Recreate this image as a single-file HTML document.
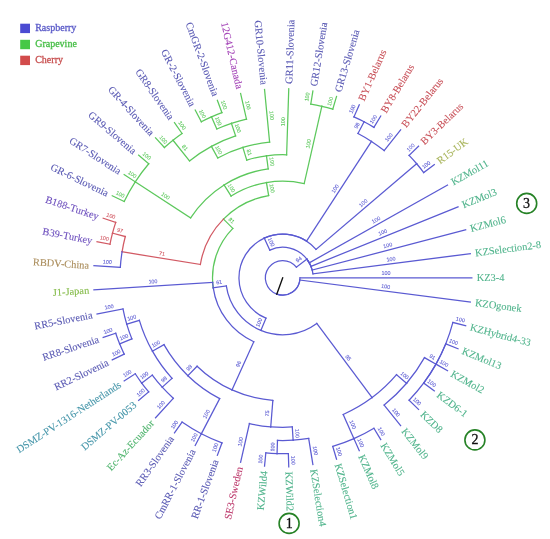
<!DOCTYPE html>
<html><head><meta charset="utf-8"><style>
html,body{margin:0;padding:0;background:#fff;}
body{width:550px;height:539px;overflow:hidden;}
svg{display:block;}
</style></head><body>
<svg width="550" height="539" viewBox="0 0 550 539">
<g fill="none" stroke-width="1.25" stroke-linecap="square">
<path d="M276.81,294.07A17.30,17.30 0 1 1 296.39,267.23" stroke="#5a5ad2"/>
<path d="M276.81,294.07A17.30,17.30 0 0 0 299.86,280.01" stroke="#5a5ad2"/>
<path d="M276.81,294.07A17.30,17.30 0 0 0 300.00,277.80" stroke="#5a5ad2"/>
<path d="M300.00,277.80L471.86,277.80" stroke="#5a5ad2"/>
<path d="M299.86,280.01L470.31,301.99" stroke="#5a5ad2"/>
<path d="M296.39,267.23L306.85,259.14" stroke="#5a5ad2"/>
<path d="M306.85,259.14A30.52,30.52 0 0 1 312.97,273.90" stroke="#5a5ad2"/>
<path d="M306.85,259.14A30.52,30.52 0 0 1 312.22,270.06" stroke="#5a5ad2"/>
<path d="M306.85,259.14A30.52,30.52 0 0 1 310.99,266.35" stroke="#5a5ad2"/>
<path d="M306.85,259.14A30.52,30.52 0 0 1 309.29,262.82" stroke="#5a5ad2"/>
<path d="M306.85,259.14A30.52,30.52 0 0 0 269.83,250.13" stroke="#5a5ad2"/>
<path d="M269.83,250.13L264.26,238.14" stroke="#5a5ad2"/>
<path d="M309.29,262.82L447.52,184.98" stroke="#5a5ad2"/>
<path d="M310.99,266.35L458.04,206.81" stroke="#5a5ad2"/>
<path d="M312.22,270.06L465.67,229.82" stroke="#5a5ad2"/>
<path d="M312.97,273.90L470.31,253.61" stroke="#5a5ad2"/>
<path d="M264.26,238.14A43.74,43.74 0 0 1 316.01,249.45" stroke="#5a5ad2"/>
<path d="M264.26,238.14A43.74,43.74 0 0 1 306.56,241.14" stroke="#5a5ad2"/>
<path d="M264.26,238.14A43.74,43.74 0 0 0 265.94,318.20" stroke="#5a5ad2"/>
<path d="M265.94,318.20L260.87,330.41" stroke="#5a5ad2"/>
<path d="M306.56,241.14L371.47,141.43" stroke="#5a5ad2"/>
<path d="M316.01,249.45L416.67,163.75" stroke="#5a5ad2"/>
<path d="M260.87,330.41A56.96,56.96 0 0 1 226.32,285.92" stroke="#5a5ad2"/>
<path d="M260.87,330.41A56.96,56.96 0 0 0 316.77,323.45" stroke="#5a5ad2"/>
<path d="M316.77,323.45L372.12,397.61" stroke="#5a5ad2"/>
<path d="M226.32,285.92L213.24,287.81" stroke="#5a5ad2"/>
<path d="M372.12,397.61A149.50,149.50 0 0 1 343.22,414.50" stroke="#5a5ad2"/>
<path d="M372.12,397.61A149.50,149.50 0 0 0 396.54,374.71" stroke="#5a5ad2"/>
<path d="M396.54,374.71L406.60,383.28" stroke="#5a5ad2"/>
<path d="M343.22,414.50L353.92,438.68" stroke="#5a5ad2"/>
<path d="M406.60,383.28A162.72,162.72 0 0 1 384.15,405.02" stroke="#5a5ad2"/>
<path d="M406.60,383.28A162.72,162.72 0 0 0 424.48,357.65" stroke="#5a5ad2"/>
<path d="M424.48,357.65L436.00,364.14" stroke="#5a5ad2"/>
<path d="M384.15,405.02L400.64,425.69" stroke="#5a5ad2"/>
<path d="M436.00,364.14A175.94,175.94 0 0 1 409.09,400.20" stroke="#5a5ad2"/>
<path d="M436.00,364.14A175.94,175.94 0 0 1 423.70,383.03" stroke="#5a5ad2"/>
<path d="M436.00,364.14A175.94,175.94 0 0 0 445.78,343.82" stroke="#5a5ad2"/>
<path d="M436.00,364.14A175.94,175.94 0 0 0 452.89,322.43" stroke="#5a5ad2"/>
<path d="M452.89,322.43L465.67,325.78" stroke="#5a5ad2"/>
<path d="M445.78,343.82L458.04,348.79" stroke="#5a5ad2"/>
<path d="M436.00,364.14L447.52,370.62" stroke="#5a5ad2"/>
<path d="M423.70,383.03L434.30,390.94" stroke="#5a5ad2"/>
<path d="M409.09,400.20L418.58,409.40" stroke="#5a5ad2"/>
<path d="M353.92,438.68A175.94,175.94 0 0 1 332.76,446.47" stroke="#5a5ad2"/>
<path d="M353.92,438.68A175.94,175.94 0 0 0 373.91,428.25" stroke="#5a5ad2"/>
<path d="M373.91,428.25L380.76,439.56" stroke="#5a5ad2"/>
<path d="M353.92,438.68L359.27,450.77" stroke="#5a5ad2"/>
<path d="M332.76,446.47L336.52,459.14" stroke="#5a5ad2"/>
<path d="M213.24,287.81A70.18,70.18 0 0 1 232.85,228.40" stroke="#5cc85c"/>
<path d="M213.24,287.81A70.18,70.18 0 0 1 212.66,282.30" stroke="#5a5ad2"/>
<path d="M213.24,287.81A70.18,70.18 0 0 0 253.78,341.74" stroke="#5a5ad2"/>
<path d="M253.78,341.74L231.99,389.92" stroke="#5a5ad2"/>
<path d="M212.66,282.30L93.93,289.92" stroke="#5a5ad2"/>
<path d="M232.85,228.40L223.46,219.09" stroke="#5cc85c"/>
<path d="M231.99,389.92A123.06,123.06 0 0 1 197.09,366.20" stroke="#5a5ad2"/>
<path d="M231.99,389.92A123.06,123.06 0 0 0 272.85,400.47" stroke="#5a5ad2"/>
<path d="M272.85,400.47L270.73,426.82" stroke="#5a5ad2"/>
<path d="M197.09,366.20L187.89,375.70" stroke="#5a5ad2"/>
<path d="M270.73,426.82A149.50,149.50 0 0 1 249.43,423.55" stroke="#5a5ad2"/>
<path d="M270.73,426.82A149.50,149.50 0 0 0 292.28,426.99" stroke="#5a5ad2"/>
<path d="M292.28,426.99L293.13,440.19" stroke="#5a5ad2"/>
<path d="M249.43,423.55L240.61,462.22" stroke="#5a5ad2"/>
<path d="M293.13,440.19A162.72,162.72 0 0 1 277.48,440.44" stroke="#5a5ad2"/>
<path d="M293.13,440.19A162.72,162.72 0 0 0 308.67,438.43" stroke="#5a5ad2"/>
<path d="M308.67,438.43L312.89,464.54" stroke="#5a5ad2"/>
<path d="M277.48,440.44L277.06,453.65" stroke="#5a5ad2"/>
<path d="M277.06,453.65A175.94,175.94 0 0 1 265.81,452.93" stroke="#5a5ad2"/>
<path d="M277.06,453.65A175.94,175.94 0 0 0 288.34,453.65" stroke="#5a5ad2"/>
<path d="M288.34,453.65L288.76,466.86" stroke="#5a5ad2"/>
<path d="M265.81,452.93L264.54,466.09" stroke="#5a5ad2"/>
<path d="M187.89,375.70A136.28,136.28 0 0 1 163.96,344.67" stroke="#5a5ad2"/>
<path d="M187.89,375.70A136.28,136.28 0 0 0 219.67,398.63" stroke="#5a5ad2"/>
<path d="M219.67,398.63L201.32,433.79" stroke="#5a5ad2"/>
<path d="M163.96,344.67L152.44,351.16" stroke="#5a5ad2"/>
<path d="M201.32,433.79A175.94,175.94 0 0 1 182.04,422.10" stroke="#5a5ad2"/>
<path d="M201.32,433.79A175.94,175.94 0 0 0 221.94,442.91" stroke="#5a5ad2"/>
<path d="M221.94,442.91L217.37,455.32" stroke="#5a5ad2"/>
<path d="M201.32,433.79L195.21,445.51" stroke="#5a5ad2"/>
<path d="M182.04,422.10L174.48,432.94" stroke="#5a5ad2"/>
<path d="M152.44,351.16A149.50,149.50 0 0 1 139.38,320.34" stroke="#5a5ad2"/>
<path d="M152.44,351.16A149.50,149.50 0 0 0 172.03,378.31" stroke="#5a5ad2"/>
<path d="M172.03,378.31L162.24,387.20" stroke="#5a5ad2"/>
<path d="M139.38,320.34L126.71,324.10" stroke="#5a5ad2"/>
<path d="M162.24,387.20A162.72,162.72 0 0 1 152.29,375.12" stroke="#5a5ad2"/>
<path d="M162.24,387.20A162.72,162.72 0 0 0 173.30,398.26" stroke="#5a5ad2"/>
<path d="M173.30,398.26L155.53,417.83" stroke="#5a5ad2"/>
<path d="M152.29,375.12L141.70,383.03" stroke="#5a5ad2"/>
<path d="M141.70,383.03A175.94,175.94 0 0 1 135.25,373.78" stroke="#5a5ad2"/>
<path d="M141.70,383.03A175.94,175.94 0 0 0 148.73,391.85" stroke="#5a5ad2"/>
<path d="M148.73,391.85L138.66,400.42" stroke="#5a5ad2"/>
<path d="M135.25,373.78L124.17,380.99" stroke="#5a5ad2"/>
<path d="M126.71,324.10A162.72,162.72 0 0 1 122.98,308.91" stroke="#5a5ad2"/>
<path d="M126.71,324.10A162.72,162.72 0 0 0 131.87,338.86" stroke="#5a5ad2"/>
<path d="M131.87,338.86L119.62,343.82" stroke="#5a5ad2"/>
<path d="M122.98,308.91L97.03,313.96" stroke="#5a5ad2"/>
<path d="M119.62,343.82A175.94,175.94 0 0 1 115.72,333.24" stroke="#5a5ad2"/>
<path d="M119.62,343.82A175.94,175.94 0 0 0 124.18,354.14" stroke="#5a5ad2"/>
<path d="M124.18,354.14L112.27,359.87" stroke="#5a5ad2"/>
<path d="M115.72,333.24L103.18,337.41" stroke="#5a5ad2"/>
<path d="M223.46,219.09A83.40,83.40 0 0 1 268.65,195.59" stroke="#5cc85c"/>
<path d="M223.46,219.09A83.40,83.40 0 0 0 200.37,264.49" stroke="#d25a64"/>
<path d="M200.37,264.49L122.07,251.83" stroke="#d25a64"/>
<path d="M268.65,195.59L266.42,182.56" stroke="#5cc85c"/>
<path d="M122.07,251.83A162.72,162.72 0 0 1 125.30,236.53" stroke="#d25a64"/>
<path d="M122.07,251.83A162.72,162.72 0 0 0 120.31,267.37" stroke="#5a5ad2"/>
<path d="M120.31,267.37L93.93,265.68" stroke="#5a5ad2"/>
<path d="M125.30,236.53L112.51,233.17" stroke="#d25a64"/>
<path d="M112.51,233.17A175.94,175.94 0 0 1 115.72,222.36" stroke="#d25a64"/>
<path d="M112.51,233.17A175.94,175.94 0 0 0 110.00,244.17" stroke="#d25a64"/>
<path d="M110.00,244.17L97.03,241.64" stroke="#d25a64"/>
<path d="M115.72,222.36L103.18,218.19" stroke="#d25a64"/>
<path d="M266.42,182.56A96.62,96.62 0 0 1 304.20,183.60" stroke="#5cc85c"/>
<path d="M266.42,182.56A96.62,96.62 0 0 0 231.13,196.09" stroke="#5cc85c"/>
<path d="M231.13,196.09L224.08,184.91" stroke="#5cc85c"/>
<path d="M304.20,183.60L321.85,106.27" stroke="#5cc85c"/>
<path d="M224.08,184.91A109.84,109.84 0 0 1 268.22,168.92" stroke="#5cc85c"/>
<path d="M224.08,184.91A109.84,109.84 0 0 0 190.64,217.88" stroke="#5cc85c"/>
<path d="M190.64,217.88L135.25,181.82" stroke="#5cc85c"/>
<path d="M268.22,168.92L266.47,155.81" stroke="#5cc85c"/>
<path d="M135.25,181.82A175.94,175.94 0 0 1 148.73,163.75" stroke="#5cc85c"/>
<path d="M135.25,181.82A175.94,175.94 0 0 0 124.18,201.46" stroke="#5cc85c"/>
<path d="M124.18,201.46L112.27,195.73" stroke="#5cc85c"/>
<path d="M135.25,181.82L124.17,174.61" stroke="#5cc85c"/>
<path d="M148.73,163.75L138.66,155.18" stroke="#5cc85c"/>
<path d="M266.47,155.81A123.06,123.06 0 0 1 286.64,154.80" stroke="#5cc85c"/>
<path d="M266.47,155.81A123.06,123.06 0 0 0 246.74,160.11" stroke="#5cc85c"/>
<path d="M246.74,160.11L242.88,147.47" stroke="#5cc85c"/>
<path d="M286.64,154.80L288.76,88.74" stroke="#5cc85c"/>
<path d="M242.88,147.47A136.28,136.28 0 0 1 269.61,142.15" stroke="#5cc85c"/>
<path d="M242.88,147.47A136.28,136.28 0 0 0 217.74,158.00" stroke="#5cc85c"/>
<path d="M217.74,158.00L211.43,146.38" stroke="#5cc85c"/>
<path d="M269.61,142.15L264.54,89.51" stroke="#5cc85c"/>
<path d="M211.43,146.38A149.50,149.50 0 0 1 235.59,135.92" stroke="#5cc85c"/>
<path d="M211.43,146.38A149.50,149.50 0 0 0 189.49,160.92" stroke="#5cc85c"/>
<path d="M189.49,160.92L173.00,140.24" stroke="#5cc85c"/>
<path d="M235.59,135.92L231.43,123.37" stroke="#5cc85c"/>
<path d="M173.00,140.24A175.94,175.94 0 0 1 182.04,133.50" stroke="#5cc85c"/>
<path d="M173.00,140.24A175.94,175.94 0 0 0 164.42,147.56" stroke="#5cc85c"/>
<path d="M164.42,147.56L155.53,137.77" stroke="#5cc85c"/>
<path d="M182.04,133.50L174.48,122.66" stroke="#5cc85c"/>
<path d="M231.43,123.37A162.72,162.72 0 0 1 246.49,119.16" stroke="#5cc85c"/>
<path d="M231.43,123.37A162.72,162.72 0 0 0 216.83,129.01" stroke="#5cc85c"/>
<path d="M216.83,129.01L211.48,116.92" stroke="#5cc85c"/>
<path d="M246.49,119.16L240.61,93.38" stroke="#5cc85c"/>
<path d="M211.48,116.92A175.94,175.94 0 0 1 221.94,112.69" stroke="#5cc85c"/>
<path d="M211.48,116.92A175.94,175.94 0 0 0 201.32,121.81" stroke="#5cc85c"/>
<path d="M201.32,121.81L195.21,110.09" stroke="#5cc85c"/>
<path d="M221.94,112.69L217.37,100.28" stroke="#5cc85c"/>
<path d="M321.85,106.27A175.94,175.94 0 0 1 332.76,109.13" stroke="#5cc85c"/>
<path d="M321.85,106.27A175.94,175.94 0 0 0 310.78,104.12" stroke="#5cc85c"/>
<path d="M310.78,104.12L312.89,91.06" stroke="#5cc85c"/>
<path d="M332.76,109.13L336.52,96.46" stroke="#5cc85c"/>
<path d="M371.47,141.43A162.72,162.72 0 0 1 384.15,150.58" stroke="#5a5ad2"/>
<path d="M371.47,141.43A162.72,162.72 0 0 0 357.96,133.53" stroke="#5a5ad2"/>
<path d="M357.96,133.53L364.08,121.81" stroke="#5a5ad2"/>
<path d="M384.15,150.58L400.64,129.91" stroke="#5a5ad2"/>
<path d="M364.08,121.81A175.94,175.94 0 0 1 373.91,127.35" stroke="#5a5ad2"/>
<path d="M364.08,121.81A175.94,175.94 0 0 0 353.92,116.92" stroke="#5a5ad2"/>
<path d="M353.92,116.92L359.27,104.83" stroke="#5a5ad2"/>
<path d="M373.91,127.35L380.76,116.04" stroke="#5a5ad2"/>
<path d="M416.67,163.75A175.94,175.94 0 0 1 423.70,172.57" stroke="#5a5ad2"/>
<path d="M416.67,163.75A175.94,175.94 0 0 0 409.09,155.40" stroke="#5a5ad2"/>
<path d="M409.09,155.40L418.58,146.20" stroke="#5a5ad2"/>
<path d="M423.70,172.57L434.30,164.66" stroke="#5a5ad2"/>
<path d="M282.70,277.80L276.81,294.07" stroke="#111" stroke-width="1.4"/>
</g>
<g font-family="'Liberation Sans', Arial, sans-serif" font-size="5.4" text-anchor="middle" stroke-width="0.08">
<text x="385.93" y="277.80" transform="rotate(0.00 385.93 277.80)" dy="-2.8" fill="#5a5ad2" stroke="#5a5ad2">100</text>
<text x="385.08" y="291.00" transform="rotate(7.35 385.08 291.00)" dy="-2.8" fill="#5a5ad2" stroke="#5a5ad2">100</text>
<text x="301.62" y="263.18" transform="rotate(322.32 301.62 263.18)" dy="-2.8" fill="#5a5ad2" stroke="#5a5ad2">94</text>
<text x="267.04" y="244.13" transform="rotate(425.06 267.04 244.13)" dy="-2.8" fill="#5a5ad2" stroke="#5a5ad2">100</text>
<text x="378.41" y="223.90" transform="rotate(330.61 378.41 223.90)" dy="-2.8" fill="#5a5ad2" stroke="#5a5ad2">100</text>
<text x="384.51" y="236.58" transform="rotate(337.96 384.51 236.58)" dy="-2.8" fill="#5a5ad2" stroke="#5a5ad2">100</text>
<text x="388.95" y="249.94" transform="rotate(345.31 388.95 249.94)" dy="-2.8" fill="#5a5ad2" stroke="#5a5ad2">100</text>
<text x="391.64" y="263.75" transform="rotate(352.65 391.64 263.75)" dy="-2.8" fill="#5a5ad2" stroke="#5a5ad2">100</text>
<text x="263.40" y="324.31" transform="rotate(292.53 263.40 324.31)" dy="-2.8" fill="#5a5ad2" stroke="#5a5ad2">100</text>
<text x="339.02" y="191.28" transform="rotate(303.06 339.02 191.28)" dy="-2.8" fill="#5a5ad2" stroke="#5a5ad2">100</text>
<text x="366.34" y="206.60" transform="rotate(319.59 366.34 206.60)" dy="-2.8" fill="#5a5ad2" stroke="#5a5ad2">100</text>
<text x="344.44" y="360.53" transform="rotate(53.27 344.44 360.53)" dy="-2.8" fill="#5a5ad2" stroke="#5a5ad2">95</text>
<text x="219.78" y="286.87" transform="rotate(351.80 219.78 286.87)" dy="-2.8" fill="#5a5ad2" stroke="#5a5ad2">61</text>
<text x="401.57" y="378.99" transform="rotate(40.41 401.57 378.99)" dy="-2.8" fill="#5a5ad2" stroke="#5a5ad2">100</text>
<text x="348.57" y="426.59" transform="rotate(66.12 348.57 426.59)" dy="-2.8" fill="#5a5ad2" stroke="#5a5ad2">100</text>
<text x="430.24" y="360.89" transform="rotate(29.39 430.24 360.89)" dy="-2.8" fill="#5a5ad2" stroke="#5a5ad2">91</text>
<text x="392.40" y="415.36" transform="rotate(51.43 392.40 415.36)" dy="-2.8" fill="#5a5ad2" stroke="#5a5ad2">100</text>
<text x="459.28" y="324.10" transform="rotate(14.69 459.28 324.10)" dy="-2.8" fill="#5a5ad2" stroke="#5a5ad2">100</text>
<text x="451.91" y="346.30" transform="rotate(22.04 451.91 346.30)" dy="-2.8" fill="#5a5ad2" stroke="#5a5ad2">100</text>
<text x="441.76" y="367.38" transform="rotate(29.39 441.76 367.38)" dy="-2.8" fill="#5a5ad2" stroke="#5a5ad2">100</text>
<text x="429.00" y="386.99" transform="rotate(36.73 429.00 386.99)" dy="-2.8" fill="#5a5ad2" stroke="#5a5ad2">100</text>
<text x="413.83" y="404.80" transform="rotate(44.08 413.83 404.80)" dy="-2.8" fill="#5a5ad2" stroke="#5a5ad2">100</text>
<text x="377.33" y="433.91" transform="rotate(58.78 377.33 433.91)" dy="-2.8" fill="#5a5ad2" stroke="#5a5ad2">100</text>
<text x="356.59" y="444.73" transform="rotate(66.12 356.59 444.73)" dy="-2.8" fill="#5a5ad2" stroke="#5a5ad2">100</text>
<text x="334.64" y="452.80" transform="rotate(73.47 334.64 452.80)" dy="-2.8" fill="#5a5ad2" stroke="#5a5ad2">100</text>
<text x="242.88" y="365.83" transform="rotate(294.34 242.88 365.83)" dy="-2.8" fill="#5a5ad2" stroke="#5a5ad2">96</text>
<text x="153.30" y="286.11" transform="rotate(356.33 153.30 286.11)" dy="-2.8" fill="#5a5ad2" stroke="#5a5ad2">100</text>
<text x="228.16" y="223.75" transform="rotate(404.74 228.16 223.75)" dy="-2.8" fill="#5cc85c" stroke="#5cc85c">81</text>
<text x="271.79" y="413.64" transform="rotate(274.59 271.79 413.64)" dy="-2.8" fill="#5a5ad2" stroke="#5a5ad2">75</text>
<text x="192.49" y="370.95" transform="rotate(314.08 192.49 370.95)" dy="-2.8" fill="#5a5ad2" stroke="#5a5ad2">98</text>
<text x="292.70" y="433.59" transform="rotate(86.33 292.70 433.59)" dy="-2.8" fill="#5a5ad2" stroke="#5a5ad2">100</text>
<text x="245.02" y="442.88" transform="rotate(282.86 245.02 442.88)" dy="-2.8" fill="#5a5ad2" stroke="#5a5ad2">100</text>
<text x="310.78" y="451.48" transform="rotate(80.82 310.78 451.48)" dy="-2.8" fill="#5a5ad2" stroke="#5a5ad2">100</text>
<text x="277.27" y="447.04" transform="rotate(271.84 277.27 447.04)" dy="-2.8" fill="#5a5ad2" stroke="#5a5ad2">100</text>
<text x="288.55" y="460.26" transform="rotate(88.16 288.55 460.26)" dy="-2.8" fill="#5a5ad2" stroke="#5a5ad2">100</text>
<text x="265.17" y="459.51" transform="rotate(275.51 265.17 459.51)" dy="-2.8" fill="#5a5ad2" stroke="#5a5ad2">100</text>
<text x="210.49" y="416.21" transform="rotate(297.55 210.49 416.21)" dy="-2.8" fill="#5a5ad2" stroke="#5a5ad2">100</text>
<text x="158.20" y="347.92" transform="rotate(330.61 158.20 347.92)" dy="-2.8" fill="#5a5ad2" stroke="#5a5ad2">100</text>
<text x="219.65" y="449.12" transform="rotate(290.20 219.65 449.12)" dy="-2.8" fill="#5a5ad2" stroke="#5a5ad2">100</text>
<text x="198.26" y="439.65" transform="rotate(297.55 198.26 439.65)" dy="-2.8" fill="#5a5ad2" stroke="#5a5ad2">100</text>
<text x="178.26" y="427.52" transform="rotate(304.90 178.26 427.52)" dy="-2.8" fill="#5a5ad2" stroke="#5a5ad2">100</text>
<text x="167.14" y="382.75" transform="rotate(317.76 167.14 382.75)" dy="-2.8" fill="#5a5ad2" stroke="#5a5ad2">98</text>
<text x="133.04" y="322.22" transform="rotate(343.47 133.04 322.22)" dy="-2.8" fill="#5a5ad2" stroke="#5a5ad2">100</text>
<text x="164.42" y="408.04" transform="rotate(312.24 164.42 408.04)" dy="-2.8" fill="#5a5ad2" stroke="#5a5ad2">100</text>
<text x="147.00" y="379.08" transform="rotate(323.27 147.00 379.08)" dy="-2.8" fill="#5a5ad2" stroke="#5a5ad2">100</text>
<text x="143.70" y="396.13" transform="rotate(319.59 143.70 396.13)" dy="-2.8" fill="#5a5ad2" stroke="#5a5ad2">100</text>
<text x="129.71" y="377.39" transform="rotate(326.94 129.71 377.39)" dy="-2.8" fill="#5a5ad2" stroke="#5a5ad2">100</text>
<text x="125.75" y="341.34" transform="rotate(337.96 125.75 341.34)" dy="-2.8" fill="#5a5ad2" stroke="#5a5ad2">100</text>
<text x="110.00" y="311.43" transform="rotate(348.98 110.00 311.43)" dy="-2.8" fill="#5a5ad2" stroke="#5a5ad2">100</text>
<text x="118.23" y="357.01" transform="rotate(334.29 118.23 357.01)" dy="-2.8" fill="#5a5ad2" stroke="#5a5ad2">100</text>
<text x="109.45" y="335.32" transform="rotate(341.63 109.45 335.32)" dy="-2.8" fill="#5a5ad2" stroke="#5a5ad2">100</text>
<text x="161.22" y="258.16" transform="rotate(369.18 161.22 258.16)" dy="-2.8" fill="#d25a64" stroke="#d25a64">71</text>
<text x="267.53" y="189.08" transform="rotate(440.30 267.53 189.08)" dy="-2.8" fill="#5cc85c" stroke="#5cc85c">100</text>
<text x="107.12" y="266.53" transform="rotate(363.67 107.12 266.53)" dy="-2.8" fill="#5a5ad2" stroke="#5a5ad2">100</text>
<text x="118.91" y="234.85" transform="rotate(374.69 118.91 234.85)" dy="-2.8" fill="#d25a64" stroke="#d25a64">97</text>
<text x="103.52" y="242.90" transform="rotate(371.02 103.52 242.90)" dy="-2.8" fill="#d25a64" stroke="#d25a64">100</text>
<text x="109.45" y="220.28" transform="rotate(378.37 109.45 220.28)" dy="-2.8" fill="#d25a64" stroke="#d25a64">100</text>
<text x="227.60" y="190.50" transform="rotate(417.74 227.60 190.50)" dy="-2.8" fill="#5cc85c" stroke="#5cc85c">100</text>
<text x="313.03" y="144.94" transform="rotate(282.86 313.03 144.94)" dy="-2.8" fill="#5cc85c" stroke="#5cc85c">100</text>
<text x="162.95" y="199.85" transform="rotate(393.06 162.95 199.85)" dy="-2.8" fill="#5cc85c" stroke="#5cc85c">100</text>
<text x="267.35" y="162.37" transform="rotate(442.42 267.35 162.37)" dy="-2.8" fill="#5cc85c" stroke="#5cc85c">100</text>
<text x="118.23" y="198.59" transform="rotate(385.71 118.23 198.59)" dy="-2.8" fill="#5cc85c" stroke="#5cc85c">100</text>
<text x="129.71" y="178.21" transform="rotate(393.06 129.71 178.21)" dy="-2.8" fill="#5cc85c" stroke="#5cc85c">100</text>
<text x="143.70" y="159.47" transform="rotate(400.41 143.70 159.47)" dy="-2.8" fill="#5cc85c" stroke="#5cc85c">100</text>
<text x="244.81" y="153.79" transform="rotate(433.01 244.81 153.79)" dy="-2.8" fill="#5cc85c" stroke="#5cc85c">81</text>
<text x="287.70" y="121.77" transform="rotate(271.84 287.70 121.77)" dy="-2.8" fill="#5cc85c" stroke="#5cc85c">100</text>
<text x="214.59" y="152.19" transform="rotate(421.53 214.59 152.19)" dy="-2.8" fill="#5cc85c" stroke="#5cc85c">100</text>
<text x="267.08" y="115.83" transform="rotate(444.49 267.08 115.83)" dy="-2.8" fill="#5cc85c" stroke="#5cc85c">100</text>
<text x="181.25" y="150.58" transform="rotate(411.43 181.25 150.58)" dy="-2.8" fill="#5cc85c" stroke="#5cc85c">81</text>
<text x="233.51" y="129.64" transform="rotate(431.63 233.51 129.64)" dy="-2.8" fill="#5cc85c" stroke="#5cc85c">100</text>
<text x="159.97" y="142.66" transform="rotate(407.76 159.97 142.66)" dy="-2.8" fill="#5cc85c" stroke="#5cc85c">100</text>
<text x="178.26" y="128.08" transform="rotate(415.10 178.26 128.08)" dy="-2.8" fill="#5cc85c" stroke="#5cc85c">100</text>
<text x="214.16" y="122.96" transform="rotate(426.12 214.16 122.96)" dy="-2.8" fill="#5cc85c" stroke="#5cc85c">100</text>
<text x="243.55" y="106.27" transform="rotate(437.14 243.55 106.27)" dy="-2.8" fill="#5cc85c" stroke="#5cc85c">100</text>
<text x="198.26" y="115.95" transform="rotate(422.45 198.26 115.95)" dy="-2.8" fill="#5cc85c" stroke="#5cc85c">100</text>
<text x="219.65" y="106.48" transform="rotate(429.80 219.65 106.48)" dy="-2.8" fill="#5cc85c" stroke="#5cc85c">100</text>
<text x="311.83" y="97.59" transform="rotate(279.18 311.83 97.59)" dy="-2.8" fill="#5cc85c" stroke="#5cc85c">100</text>
<text x="334.64" y="102.80" transform="rotate(286.53 334.64 102.80)" dy="-2.8" fill="#5cc85c" stroke="#5cc85c">100</text>
<text x="361.02" y="127.67" transform="rotate(297.55 361.02 127.67)" dy="-2.8" fill="#5a5ad2" stroke="#5a5ad2">98</text>
<text x="392.40" y="140.24" transform="rotate(308.57 392.40 140.24)" dy="-2.8" fill="#5a5ad2" stroke="#5a5ad2">100</text>
<text x="356.59" y="110.87" transform="rotate(293.88 356.59 110.87)" dy="-2.8" fill="#5a5ad2" stroke="#5a5ad2">100</text>
<text x="377.33" y="121.69" transform="rotate(301.22 377.33 121.69)" dy="-2.8" fill="#5a5ad2" stroke="#5a5ad2">100</text>
<text x="413.83" y="150.80" transform="rotate(315.92 413.83 150.80)" dy="-2.8" fill="#5a5ad2" stroke="#5a5ad2">100</text>
<text x="429.00" y="168.61" transform="rotate(323.27 429.00 168.61)" dy="-2.8" fill="#5a5ad2" stroke="#5a5ad2">100</text>
</g>
<g font-family="'Liberation Serif', 'Times New Roman', serif" font-size="10.4" stroke-width="0.1">
<text x="476.70" y="277.80" transform="rotate(0.00 476.70 277.80)" text-anchor="start" dy="0.33em" fill="#50b48c" stroke="#50b48c">KZ3-4</text>
<text x="475.11" y="302.61" transform="rotate(7.35 475.11 302.61)" text-anchor="start" dy="0.33em" fill="#50b48c" stroke="#50b48c">KZOgonek</text>
<text x="470.36" y="327.01" transform="rotate(14.69 470.36 327.01)" text-anchor="start" dy="0.33em" fill="#50b48c" stroke="#50b48c">KZHybrid4-33</text>
<text x="462.52" y="350.60" transform="rotate(22.04 462.52 350.60)" text-anchor="start" dy="0.33em" fill="#50b48c" stroke="#50b48c">KZMol13</text>
<text x="451.74" y="373.00" transform="rotate(29.39 451.74 373.00)" text-anchor="start" dy="0.33em" fill="#50b48c" stroke="#50b48c">KZMol2</text>
<text x="438.17" y="393.83" transform="rotate(36.73 438.17 393.83)" text-anchor="start" dy="0.33em" fill="#50b48c" stroke="#50b48c">KZD6-1</text>
<text x="422.06" y="412.76" transform="rotate(44.08 422.06 412.76)" text-anchor="start" dy="0.33em" fill="#50b48c" stroke="#50b48c">KZD8</text>
<text x="403.66" y="429.48" transform="rotate(51.43 403.66 429.48)" text-anchor="start" dy="0.33em" fill="#50b48c" stroke="#50b48c">KZMol9</text>
<text x="383.27" y="443.70" transform="rotate(58.78 383.27 443.70)" text-anchor="start" dy="0.33em" fill="#50b48c" stroke="#50b48c">KZMol5</text>
<text x="361.23" y="455.20" transform="rotate(66.12 361.23 455.20)" text-anchor="start" dy="0.33em" fill="#50b48c" stroke="#50b48c">KZMol8</text>
<text x="337.90" y="463.78" transform="rotate(73.47 337.90 463.78)" text-anchor="start" dy="0.33em" fill="#50b48c" stroke="#50b48c">KZSelection1</text>
<text x="313.66" y="469.31" transform="rotate(80.82 313.66 469.31)" text-anchor="start" dy="0.33em" fill="#50b48c" stroke="#50b48c">KZSelection4</text>
<text x="288.92" y="471.70" transform="rotate(88.16 288.92 471.70)" text-anchor="start" dy="0.33em" fill="#50b48c" stroke="#50b48c">KZWild2</text>
<text x="264.07" y="470.90" transform="rotate(275.51 264.07 470.90)" text-anchor="end" dy="0.33em" fill="#50b48c" stroke="#50b48c">KZWild4</text>
<text x="239.53" y="466.94" transform="rotate(282.86 239.53 466.94)" text-anchor="end" dy="0.33em" fill="#be3c6e" stroke="#be3c6e">SE3-Sweden</text>
<text x="215.70" y="459.86" transform="rotate(290.20 215.70 459.86)" text-anchor="end" dy="0.33em" fill="#5a5ab4" stroke="#5a5ab4">RR-1-Slovenia</text>
<text x="192.97" y="449.80" transform="rotate(297.55 192.97 449.80)" text-anchor="end" dy="0.33em" fill="#5a5ab4" stroke="#5a5ab4">CmRR-1-Slovenia</text>
<text x="171.71" y="436.91" transform="rotate(304.90 171.71 436.91)" text-anchor="end" dy="0.33em" fill="#5a5ab4" stroke="#5a5ab4">RR3-Slovenia</text>
<text x="152.27" y="421.41" transform="rotate(312.24 152.27 421.41)" text-anchor="end" dy="0.33em" fill="#50b46e" stroke="#50b46e">Ec-Az-Ecuador</text>
<text x="134.98" y="403.56" transform="rotate(319.59 134.98 403.56)" text-anchor="end" dy="0.33em" fill="#4696aa" stroke="#4696aa">DSMZ-PV-0053</text>
<text x="120.11" y="383.63" transform="rotate(326.94 120.11 383.63)" text-anchor="end" dy="0.33em" fill="#4696aa" stroke="#4696aa">DSMZ-PV-1316-Netherlands</text>
<text x="107.91" y="361.97" transform="rotate(334.29 107.91 361.97)" text-anchor="end" dy="0.33em" fill="#5a5ab4" stroke="#5a5ab4">RR2-Slovenia</text>
<text x="98.58" y="338.93" transform="rotate(341.63 98.58 338.93)" text-anchor="end" dy="0.33em" fill="#5a5ab4" stroke="#5a5ab4">RR8-Slovenia</text>
<text x="92.28" y="314.88" transform="rotate(348.98 92.28 314.88)" text-anchor="end" dy="0.33em" fill="#5a5ab4" stroke="#5a5ab4">RR5-Slovenia</text>
<text x="89.10" y="290.23" transform="rotate(356.33 89.10 290.23)" text-anchor="end" dy="0.33em" fill="#82ba46" stroke="#82ba46">J1-Japan</text>
<text x="89.10" y="265.37" transform="rotate(363.67 89.10 265.37)" text-anchor="end" dy="0.33em" fill="#aa8c5a" stroke="#aa8c5a">RBDV-China</text>
<text x="92.28" y="240.72" transform="rotate(371.02 92.28 240.72)" text-anchor="end" dy="0.33em" fill="#6e50be" stroke="#6e50be">B39-Turkey</text>
<text x="98.58" y="216.67" transform="rotate(378.37 98.58 216.67)" text-anchor="end" dy="0.33em" fill="#6e50be" stroke="#6e50be">B188-Turkey</text>
<text x="107.91" y="193.63" transform="rotate(385.71 107.91 193.63)" text-anchor="end" dy="0.33em" fill="#5a5ab4" stroke="#5a5ab4">GR-6-Slovenia</text>
<text x="120.11" y="171.97" transform="rotate(393.06 120.11 171.97)" text-anchor="end" dy="0.33em" fill="#5a5ab4" stroke="#5a5ab4">GR7-Slovenia</text>
<text x="134.98" y="152.04" transform="rotate(400.41 134.98 152.04)" text-anchor="end" dy="0.33em" fill="#5a5ab4" stroke="#5a5ab4">GR9-Slovenia</text>
<text x="152.27" y="134.19" transform="rotate(407.76 152.27 134.19)" text-anchor="end" dy="0.33em" fill="#5a5ab4" stroke="#5a5ab4">GR-4-Slovenia</text>
<text x="171.71" y="118.69" transform="rotate(415.10 171.71 118.69)" text-anchor="end" dy="0.33em" fill="#5a5ab4" stroke="#5a5ab4">GR8-Slovenia</text>
<text x="192.97" y="105.80" transform="rotate(422.45 192.97 105.80)" text-anchor="end" dy="0.33em" fill="#5a5ab4" stroke="#5a5ab4">GR-2-Slovenia</text>
<text x="215.70" y="95.74" transform="rotate(429.80 215.70 95.74)" text-anchor="end" dy="0.33em" fill="#5a5ab4" stroke="#5a5ab4">CmGR-2-Slovenia</text>
<text x="239.53" y="88.66" transform="rotate(437.14 239.53 88.66)" text-anchor="end" dy="0.33em" fill="#a03cb4" stroke="#a03cb4">12G412-Canada</text>
<text x="264.07" y="84.70" transform="rotate(444.49 264.07 84.70)" text-anchor="end" dy="0.33em" fill="#5a5ab4" stroke="#5a5ab4">GR10-Slovenia</text>
<text x="288.92" y="83.90" transform="rotate(271.84 288.92 83.90)" text-anchor="start" dy="0.33em" fill="#5a5ab4" stroke="#5a5ab4">GR11-Slovenia</text>
<text x="313.66" y="86.29" transform="rotate(279.18 313.66 86.29)" text-anchor="start" dy="0.33em" fill="#5a5ab4" stroke="#5a5ab4">GR12-Slovenia</text>
<text x="337.90" y="91.82" transform="rotate(286.53 337.90 91.82)" text-anchor="start" dy="0.33em" fill="#5a5ab4" stroke="#5a5ab4">GR13-Slovenia</text>
<text x="361.23" y="100.40" transform="rotate(293.88 361.23 100.40)" text-anchor="start" dy="0.33em" fill="#c85058" stroke="#c85058">BY1-Belarus</text>
<text x="383.27" y="111.90" transform="rotate(301.22 383.27 111.90)" text-anchor="start" dy="0.33em" fill="#c85058" stroke="#c85058">BY8-Belarus</text>
<text x="403.66" y="126.12" transform="rotate(308.57 403.66 126.12)" text-anchor="start" dy="0.33em" fill="#c85058" stroke="#c85058">BY22-Belarus</text>
<text x="422.06" y="142.84" transform="rotate(315.92 422.06 142.84)" text-anchor="start" dy="0.33em" fill="#c85058" stroke="#c85058">BY3-Belarus</text>
<text x="438.17" y="161.77" transform="rotate(323.27 438.17 161.77)" text-anchor="start" dy="0.33em" fill="#a8b45a" stroke="#a8b45a">R15-UK</text>
<text x="451.74" y="182.60" transform="rotate(330.61 451.74 182.60)" text-anchor="start" dy="0.33em" fill="#50b48c" stroke="#50b48c">KZMol11</text>
<text x="462.52" y="205.00" transform="rotate(337.96 462.52 205.00)" text-anchor="start" dy="0.33em" fill="#50b48c" stroke="#50b48c">KZMol3</text>
<text x="470.36" y="228.59" transform="rotate(345.31 470.36 228.59)" text-anchor="start" dy="0.33em" fill="#50b48c" stroke="#50b48c">KZMol6</text>
<text x="475.11" y="252.99" transform="rotate(352.65 475.11 252.99)" text-anchor="start" dy="0.33em" fill="#50b48c" stroke="#50b48c">KZSelection2-8</text>
</g>
<g>
<rect x="20.2" y="23.7" width="9.8" height="9.4" fill="#4b4bd2"/>
<rect x="20.2" y="39.8" width="9.8" height="9.4" fill="#46c846"/>
<rect x="20.2" y="55.7" width="9.8" height="9.4" fill="#d24b4b"/>
<g font-family="'Liberation Serif', 'Times New Roman', serif" font-size="10" stroke-width="0.3">
<text x="35.2" y="31.3" fill="#5a5ac8" stroke="#5a5ac8">Raspberry</text>
<text x="35.2" y="47.4" fill="#46be46" stroke="#46be46">Grapevine</text>
<text x="35.2" y="63.1" fill="#c85050" stroke="#c85050">Cherry</text>
</g>
</g>
<g fill="none" stroke="#268226" stroke-width="1.6">
<circle cx="289.1" cy="523.4" r="10"/>
<circle cx="474.9" cy="439.9" r="10"/>
<circle cx="526.7" cy="203.4" r="10"/>
</g>
<g font-family="'Liberation Serif', 'Times New Roman', serif" font-size="14" fill="#111" stroke="#111" stroke-width="0.3" text-anchor="middle">
<text x="289.3" y="527.8">1</text>
<text x="474.9" y="444.2">2</text>
<text x="526.5" y="207.6">3</text>
</g>
</svg>
</body></html>
